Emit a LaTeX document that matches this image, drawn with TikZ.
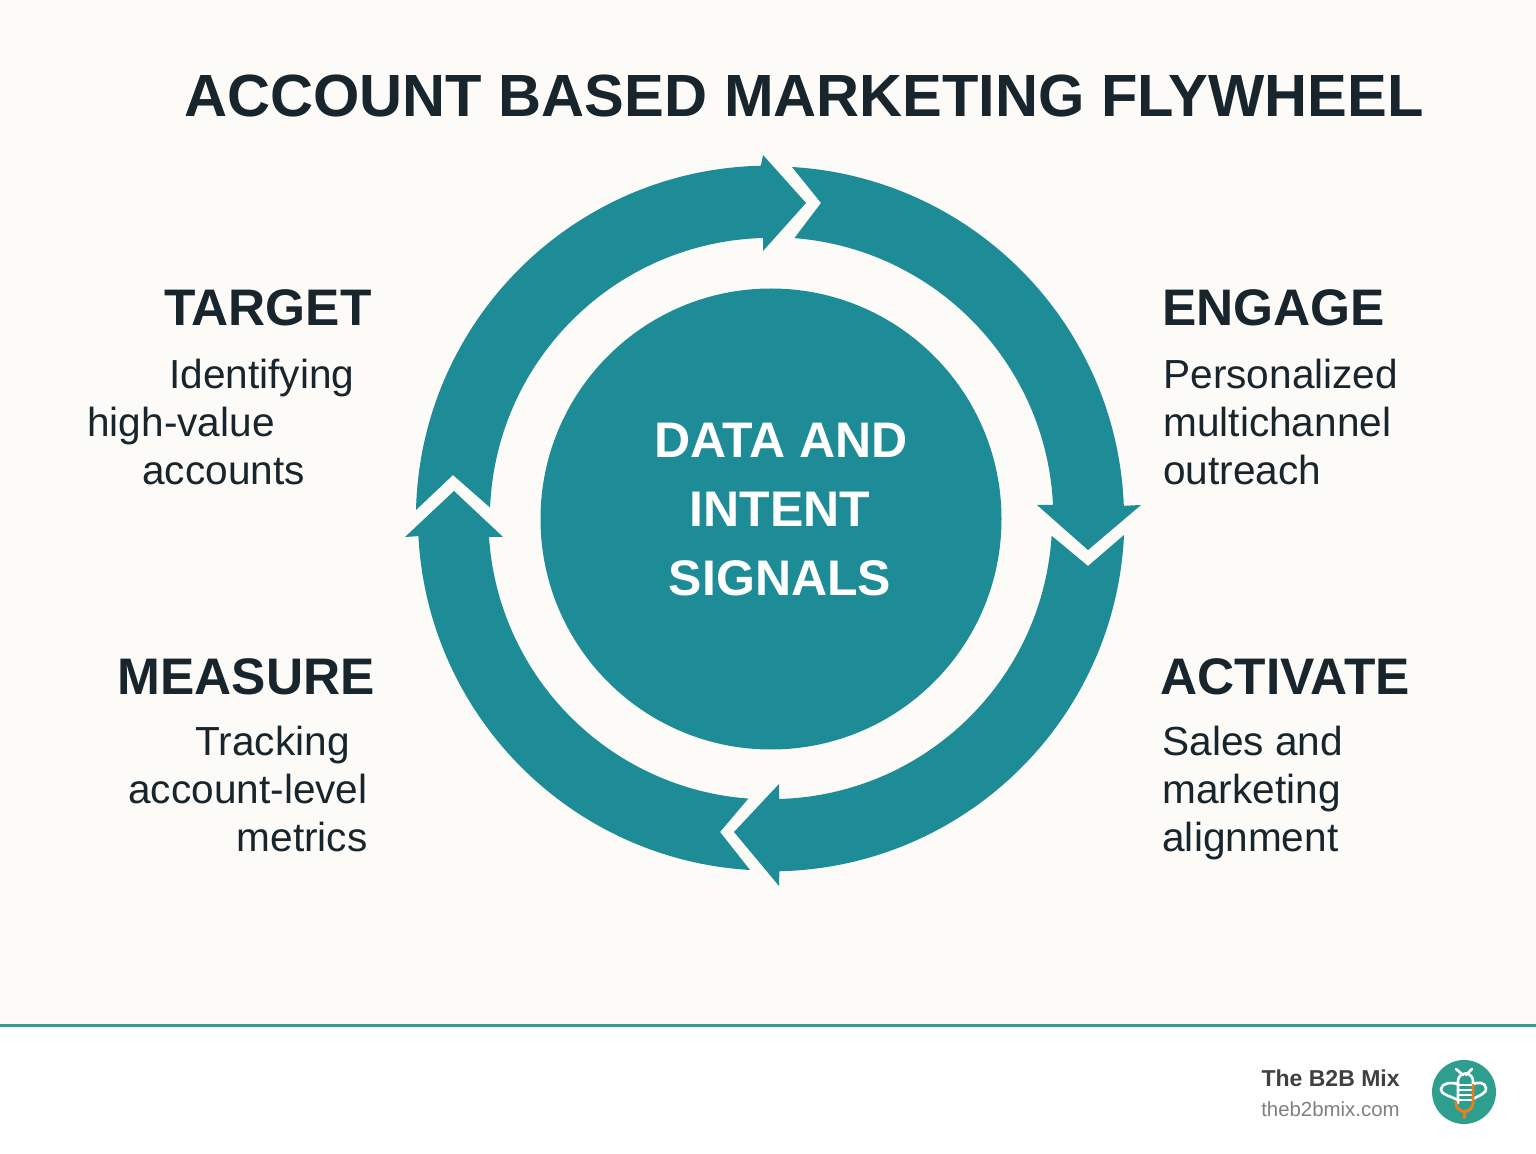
\documentclass[tikz,border=0pt]{standalone}
\usepackage{fontspec}
\setmainfont{Liberation Sans}
\definecolor{wheelteal}{HTML}{1E8C96}
\definecolor{paper}{HTML}{FCFBF7}
\definecolor{inkdark}{HTML}{18252C}
\definecolor{logoteal}{HTML}{2E9E8E}
\definecolor{beeorange}{HTML}{EE7D1E}
\tikzset{
wheel/.style={fill=wheelteal},
stagehead/.style={font=\bfseries\fontsize{25.7}{25.7}\selectfont, text=inkdark, inner sep=0pt},
stagetext/.style={font=\fontsize{20.3}{20.3}\selectfont, text=inkdark, inner sep=0pt},
hubtext/.style={font=\bfseries\fontsize{25}{25}\selectfont, text=white, inner sep=0pt, anchor=base},
beeline/.style={white, line width=1.3pt, line cap=round}}

\begin{document}
\begin{tikzpicture}[x=0.5pt,y=-0.5pt]

    \useasboundingbox (0,0) rectangle (1536,1154);
    \fill[white] (0,0) rectangle (1536,1154);
    \fill[paper] (0,0) rectangle (1536,1025);
    \draw[logoteal, line width=1.6pt] (0,1025.5) -- (1536,1025.5);

    \node[font=\bfseries\fontsize{29.8}{29.8}\selectfont, text=inkdark, inner sep=0pt, anchor=base west] (title) at (184,117) {ACCOUNT BASED MARKETING FLYWHEEL};

    % four arc arrows, clockwise
    \fill[wheel] (416,510) arc[start angle=181.4, end angle=268.7, radius=353] -- (763,155) -- (806,203) -- (763,251) -- (763,238) arc[start angle=268.4, end angle=182.3, radius=281] -- (453,475) -- cycle;
    \fill[wheel] (792,167) arc[start angle=273.4, end angle=357.8, radius=353] -- (1141,505) -- (1088,550) -- (1037,505) -- (1053,505) arc[start angle=357.3, end angle=274.5, radius=281] -- (821,203) -- cycle;
    \fill[wheel] (1124,535) arc[start angle=2.7, end angle=88.7, radius=353] -- (779,886) -- (734,832) -- (779,784) -- (779,799) arc[start angle=88.4, end angle=3.6, radius=281] -- (1088,566) -- cycle;
    \fill[wheel] (750,870) arc[start angle=93.4, end angle=177, radius=353] -- (405,537) -- (454,491) -- (503,537) -- (489,537) arc[start angle=176.2, end angle=94.3, radius=281] -- (720,832) -- cycle;

    \node[circle, fill=wheelteal, minimum size=230.5pt, inner sep=0pt] (hub) at (771,519) {};
    \node[hubtext] (hub1) at (781,457.5) {DATA AND};
    \node[hubtext] (hub2) at (780,526.5) {INTENT};
    \node[hubtext] (hub3) at (780,595.5) {SIGNALS};

    \node[stagehead, anchor=base east] (target) at (372,326) {TARGET};
    \node[stagetext, anchor=base west] (target1) at (169,389) {Identifying};
    \node[stagetext, anchor=base west] (target2) at (87,437) {high-value};
    \node[stagetext, anchor=base west] (target3) at (142,485) {accounts};

    \node[stagehead, anchor=base west] (engage) at (1162,326) {ENGAGE};
    \node[stagetext, anchor=base west] (engage1) at (1163,389) {Personalized};
    \node[stagetext, anchor=base west] (engage2) at (1163,437) {multichannel};
    \node[stagetext, anchor=base west] (engage3) at (1163,485) {outreach};

    \node[stagehead, anchor=base east] (measure) at (375,694) {MEASURE};
    \node[stagetext, anchor=base east] (measure1) at (350,755) {Tracking};
    \node[stagetext, anchor=base east] (measure2) at (368,803) {account-level};
    \node[stagetext, anchor=base east] (measure3) at (368,851) {metrics};

    \node[stagehead, anchor=base west] (activate) at (1160,694) {ACTIVATE};
    \node[stagetext, anchor=base west] (activate1) at (1162,755) {Sales and};
    \node[stagetext, anchor=base west] (activate2) at (1162,803) {marketing};
    \node[stagetext, anchor=base west] (activate3) at (1162,851) {alignment};

    \node[font=\bfseries\fontsize{11.5}{11.5}\selectfont, text=black!75, inner sep=0pt, anchor=base east] (brand) at (1400,1086) {The B2B Mix};
    \node[font=\fontsize{10.2}{10.2}\selectfont, text=black!50, inner sep=0pt, anchor=base east] (site) at (1400,1116) {theb2bmix.com};

    % logo
    \node[circle, fill=logoteal, minimum size=32pt, inner sep=0pt] (logo) at (1464,1092) {};
    \draw[beeline] (1458,1103) -- (1458,1081) arc[start angle=180, end angle=360, radius=7.5] -- (1473,1085);
    \draw[beeline] (1458,1084) .. controls (1450,1082) and (1442,1083) .. (1441,1089) .. controls (1440,1094) and (1450,1096) .. (1458,1100);
    \draw[beeline] (1473,1084) .. controls (1478,1082) and (1485,1082) .. (1486,1088) .. controls (1487,1093) and (1480,1095) .. (1473,1099);
    \draw[beeline] (1456,1069) -- (1463,1075) (1472,1069) -- (1466,1075);
    \foreach \y in {1085,1090,1095,1100} \draw[white, line width=1.2pt] (1458,\y) -- (1472,\y);
    \draw[beeorange, line width=1.4pt, line cap=round] (1473,1085) -- (1473,1103) arc[start angle=0, end angle=180, radius=8.5] -- (1456,1102) (1464.5,1111) -- (1464.5,1118);

\end{tikzpicture}
\end{document}
